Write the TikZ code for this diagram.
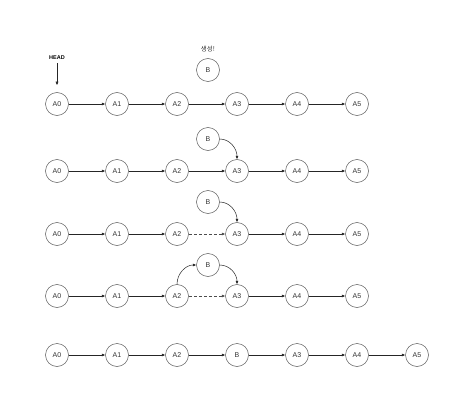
\documentclass[tikz,border=0pt]{standalone}
\usepackage{fontspec}
\setmainfont{Liberation Sans}
\newfontfamily\krfont{Noto Sans CJK KR}
\usetikzlibrary{arrows.meta}

\tikzset{
  elem/.style={circle,draw=black!65,line width=0.5pt,minimum size=23pt,inner sep=0pt,
    font=\fontsize{7}{8}\selectfont,text=black!80},
  link/.style={-{Latex[length=3.5pt,width=3pt]},line width=0.5pt,black!85},
  cut/.style={link,densely dashed,black!70}
}

\begin{document}
\begin{tikzpicture}[x=1pt,y=-1pt]
\useasboundingbox[fill=white] (0,0) rectangle (474,412);
% rows 1-4: A0 ... A5
\foreach \r/\y in {1/104,2/171,3/234,4/296}
  \foreach \i in {0,...,5}
    \node[elem] (a\i r\r) at ({57+60*\i},\y) {A\i};
% new node B
\node[elem] (b1) at (208,70) {B};
\node[elem] (b2) at (208,139) {B};
\node[elem] (b3) at (208,202) {B};
\node[elem] (b4) at (208,265) {B};
\node[font=\krfont\fontsize{6.5}{7}\selectfont,text=black!80] (made) at (208,49) {생성!};
\node[font=\bfseries\fontsize{5.5}{6}\selectfont] (head) at (57,58) {HEAD};
\draw[link,shorten >=7pt] (head) -- (a0r1);
% links
\foreach \r in {1,2}
  \foreach \i [count=\j] in {0,...,4}
    \draw[link] (a\i r\r) -- (a\j r\r);
\foreach \r in {3,4} {
  \draw[link] (a0r\r) -- (a1r\r);
  \draw[link] (a1r\r) -- (a2r\r);
  \draw[cut] (a2r\r) -- (a3r\r);
  \draw[link] (a3r\r) -- (a4r\r);
  \draw[link] (a4r\r) -- (a5r\r);
}
\draw[link] (b2.east) to[out=0,in=90] (a3r2.north);
\draw[link] (b3.east) to[out=0,in=90] (a3r3.north);
\draw[link] (b4.east) to[out=0,in=90] (a3r4.north);
\draw[link] (a2r4.north) to[out=90,in=180] (b4.west);
% row 5: after insert
\node[elem] (c0) at (57,355) {A0};
\node[elem] (c1) at (117,355) {A1};
\node[elem] (c2) at (177,355) {A2};
\node[elem] (c3) at (237,355) {B};
\node[elem] (c4) at (297,355) {A3};
\node[elem] (c5) at (357,355) {A4};
\node[elem] (c6) at (417,355) {A5};
\foreach \i [count=\j] in {0,...,5}
  \draw[link] (c\i) -- (c\j);
\end{tikzpicture}
\end{document}
